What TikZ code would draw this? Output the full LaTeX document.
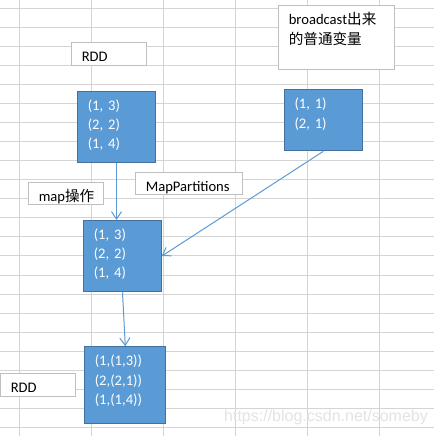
\documentclass[tikz,border=0pt]{standalone}
\usepackage{fontspec}
\setmainfont{Carlito}
\newfontfamily\cjk{Noto Sans CJK SC}
\newfontfamily\wmfont{Liberation Sans}
\usepackage{tikz}
\usetikzlibrary{arrows.meta, positioning}

\definecolor{cellblue}{HTML}{5B9BD5}
\definecolor{celledge}{HTML}{41719C}
\definecolor{gridgray}{HTML}{D4D4D4}
\definecolor{tagedge}{HTML}{BFBFBF}
\newcommand\boxfont{\fontsize{14.6pt}{19.2pt}\selectfont}

\tikzset{
  gridline/.style={gridgray, line width=1pt},
  databox/.style={draw=celledge, fill=cellblue, line width=1pt, text=white,
    font=\boxfont, align=left, anchor=north west, inner xsep=10pt,
    inner ysep=0pt, text height=19pt},
  tagbox/.style={draw=tagedge, fill=white, line width=1pt, font=\boxfont,
    align=left, anchor=north west, inner xsep=10pt, inner ysep=0pt,
    text height=18.6pt},
  flow/.style={-{Straight Barb[length=7.5pt,width=10pt]}, cellblue,
    line width=1pt}
}

\begin{document}
\begin{tikzpicture}[x=1pt,y=-1pt]
  \useasboundingbox[fill=white] (0,0) rectangle (434,436);
  % sheet grid
  \foreach \x in {19.3,91.3,...,380} \draw[gridline] (\x,0) -- (\x,436);
  \foreach \k in {0,...,22} \draw[gridline] (0,8.3+19.05*\k) -- (434,8.3+19.05*\k);

  \node[tagbox, text width=55pt, text depth=4.4pt] (rddtop) at (71.3,42.3) {RDD};
  \node[tagbox, text width=96pt, text height=19.2pt, text depth=44.8pt] (note) at (278.3,5.3)
  {broadcast{\cjk 出来}\\{\cjk 的普通变量}};

  \node[databox, text width=57.4pt, text depth=52.3pt] (src) at (77.3,91)
  {(1, 3)\\(2, 2)\\(1, 4)};
  \node[databox, text width=57.7pt, text depth=42pt] (bcast) at (284,89.3)
  {(1, 1)\\(2, 1)};
  \node[tagbox, text width=87pt, text depth=3.4pt] (mapp) at (135.3,172.3) {MapPartitions};
  \node[tagbox, text width=55pt, text depth=3.4pt] (mapop) at (28.3,182.3) {map{\cjk 操作}};
  \node[databox, text width=57.4pt, text depth=52.3pt] (joined) at (83.3,220)
  {(1, 3)\\(2, 2)\\(1, 4)};
  \node[databox, text width=61pt, text depth=58pt] (result) at (84.3,346.3)
  {(1,(1,3))\\(2,(2,1))\\(1,(1,4))};
  \node[tagbox, anchor=east, text width=55pt, text depth=4.4pt, left=8pt of result] (rddbot) {RDD};

  \draw[flow] (src.south) -- (src.south |- joined.north);
  \draw[flow] (bcast.south) -- (joined.east);
  \draw[flow] (joined.south) -- (result.north);

  \node[font=\wmfont\fontsize{16pt}{18pt}\selectfont, text=black!11, anchor=base west,
    inner sep=0pt] (mark) at (224,421.7) {https://blog.csdn.net/someby};
\end{tikzpicture}
\end{document}
